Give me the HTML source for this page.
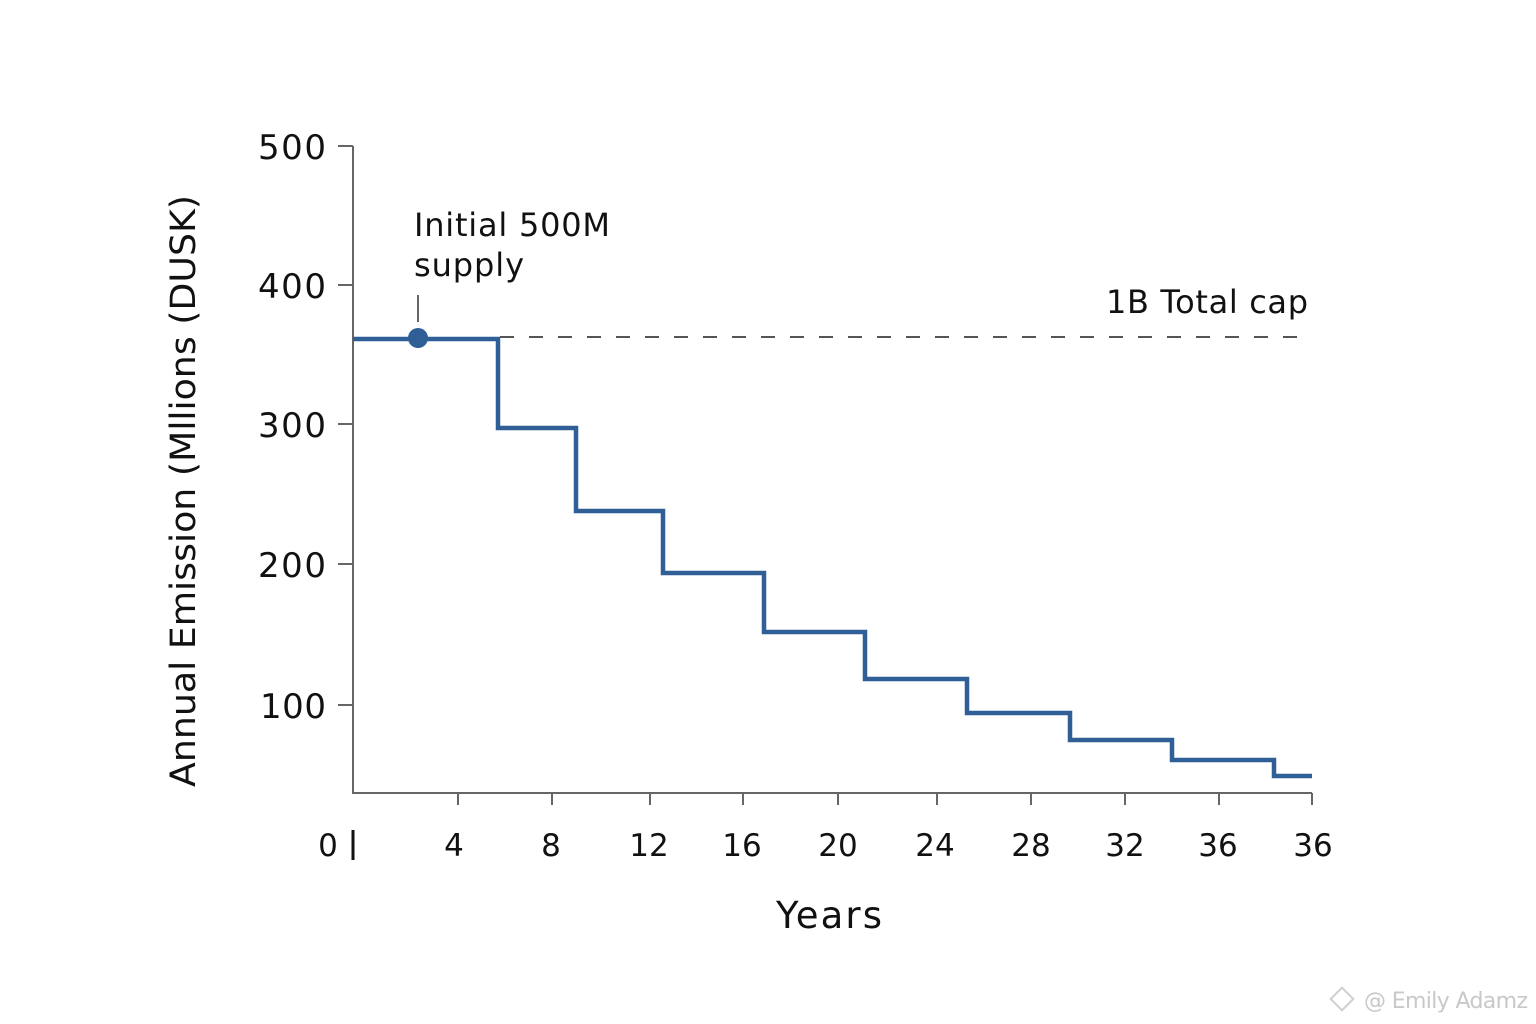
<!DOCTYPE html>
<html><head><meta charset="utf-8"><style>
html,body{margin:0;padding:0;background:#fff;}
svg{display:block;}
text{font-family:"DejaVu Sans","Liberation Sans",sans-serif;fill:#111;}
</style></head><body>
<svg width="1536" height="1024" viewBox="0 0 1536 1024" xmlns="http://www.w3.org/2000/svg">
<rect width="1536" height="1024" fill="#fff"/>
<g stroke="#666" stroke-width="2" fill="none">
<line x1="353" y1="146" x2="353" y2="794"/>
<line x1="352" y1="793" x2="1312" y2="793"/>
<line x1="338" y1="146" x2="353" y2="146"/>
<line x1="338" y1="285" x2="353" y2="285"/>
<line x1="338" y1="424" x2="353" y2="424"/>
<line x1="338" y1="564" x2="353" y2="564"/>
<line x1="338" y1="705" x2="353" y2="705"/>
<line x1="458" y1="793" x2="458" y2="805"/>
<line x1="552" y1="793" x2="552" y2="805"/>
<line x1="650" y1="793" x2="650" y2="805"/>
<line x1="743" y1="793" x2="743" y2="805"/>
<line x1="838" y1="793" x2="838" y2="805"/>
<line x1="937" y1="793" x2="937" y2="805"/>
<line x1="1031" y1="793" x2="1031" y2="805"/>
<line x1="1125" y1="793" x2="1125" y2="805"/>
<line x1="1219" y1="793" x2="1219" y2="805"/>
<line x1="1312" y1="793" x2="1312" y2="805"/>
</g>
<g font-size="34">
<text x="258" y="159" textLength="68">500</text>
<text x="258" y="298" textLength="68">400</text>
<text x="258" y="437" textLength="68">300</text>
<text x="258" y="577" textLength="68">200</text>
<text x="260" y="718" textLength="66">100</text>
</g>
<g font-size="31" text-anchor="middle">
<text x="328" y="856">0</text>
<text x="454" y="856">4</text>
<text x="551" y="856">8</text>
<text x="649" y="856">12</text>
<text x="742" y="856">16</text>
<text x="838" y="856">20</text>
<text x="935" y="856">24</text>
<text x="1031" y="856">28</text>
<text x="1125" y="856">32</text>
<text x="1218" y="856">36</text>
<text x="1313" y="856">36</text>
</g>
<line x1="353" y1="830" x2="353" y2="860" stroke="#111" stroke-width="3"/>
<text x="776" y="928" font-size="37" textLength="106">Years</text>
<text transform="translate(195,787) rotate(-90)" font-size="35" textLength="592" lengthAdjust="spacingAndGlyphs">Annual Emission (Mllions (DUSK)</text>
<line x1="500" y1="337" x2="1312" y2="337" stroke="#555" stroke-width="2" stroke-dasharray="14 15"/>
<text x="1106" y="313" font-size="32" textLength="202">1B Total cap</text>
<path d="M353,339 H498 V428 H576 V511 H663 V573 H764 V632 H865 V679 H967 V713 H1070 V740 H1172 V760 H1274 V776 H1312" fill="none" stroke="#2f5f96" stroke-width="4.5"/>
<line x1="418" y1="295" x2="418" y2="322" stroke="#333" stroke-width="1.5"/>
<circle cx="418" cy="338" r="10" fill="#2f5f96"/>
<text x="414" y="236" font-size="32" textLength="196">Initial 500M</text>
<text x="414" y="276" font-size="32" textLength="110">supply</text>
<text x="1364" y="1008" font-size="22" textLength="164" style="fill:#c8c8c8">@ Emily Adamz</text>
<g transform="translate(1342,999) rotate(45)" fill="none" stroke="#d0d0d0" stroke-width="2"><rect x="-8" y="-8" width="16" height="16"/></g>
</svg>
</body></html>
